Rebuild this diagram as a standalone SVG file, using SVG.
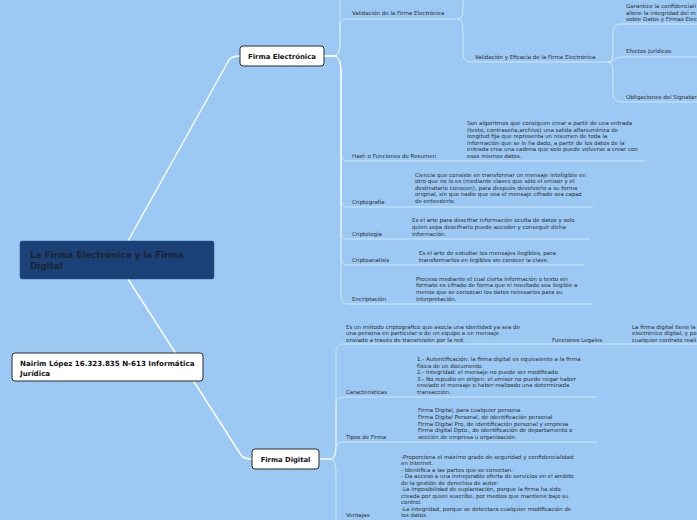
<svg xmlns="http://www.w3.org/2000/svg" width="697" height="520" viewBox="0 0 697 520">
<style>
.bg{fill:#9bc9f4}
.main{fill:none;stroke:#ffffff;stroke-width:1.4}
.br{fill:none;stroke:#ffffff;stroke-opacity:0.55;stroke-width:1}
.lbl{font-family:"DejaVu Sans",Verdana,sans-serif;font-size:5.5px;fill:#2b2b2b}
.node{fill:#ffffff;stroke:#2a2a2a;stroke-width:1}
.nt{font-family:"DejaVu Sans",Verdana,sans-serif;font-weight:bold;fill:#111111}
.ct{font-family:"DejaVu Sans",Verdana,sans-serif;font-weight:bold;fill:#1c2433;font-size:8.8px}
.central{fill:#1b4176;stroke:#24508c;stroke-width:0.5}
</style>
<rect class="bg" x="0" y="0" width="697" height="520"/>
<g id="connectors">
<path class="main" d="M128,241 L229,60 C231,57 234,56 240,56"/>
<path class="main" d="M128,279 L241,455 C243,458 246,459 252,459"/>
<path class="br" d="M324,56 H334 C339,56 340,50 340,40 V-10"/>
<path class="br" d="M324,56 H334 C339,56 340,50 340,42 V28 C340,22 342,19 348,19 H458"/>
<path class="br" d="M458,19 C462,19 463,15 463,8 V-10"/>
<path class="br" d="M458,19 C462,19 463,24 463,32 V53 C463,59 466,62 472,62 H608"/>
<path class="br" d="M608,62 C612,62 613,58 613,50 V32 C613,27 616,24 622,24 H697"/>
<path class="br" d="M608,62 C614,62 615,57 622,57 H697"/>
<path class="br" d="M608,62 C612,62 613,66 613,74 V94 C613,99 616,102 622,102 H697"/>
<path class="br" d="M324,56 H334 C339,56 341,62 341,74 V153 C341,158 343,161 348,161 H645"/>
<path class="br" d="M324,56 H334 C339,56 341,62 341,74 V199 C341,204 343,207 348,207 H593"/>
<path class="br" d="M324,56 H334 C339,56 341,62 341,74 V231 C341,236 343,239 348,239 H590"/>
<path class="br" d="M324,56 H334 C339,56 341,62 341,74 V257 C341,262 343,265 348,265 H584"/>
<path class="br" d="M324,56 H334 C339,56 341,62 341,74 V296 C341,301 343,304 348,304 H592"/>
<path class="br" d="M319,459 H330 C335,459 336,452 336,440 V352 C336,347 338,344 344,344 H697"/>
<path class="br" d="M319,459 H330 C335,459 336,452 336,440 V405 C336,400 338,397 344,397 H597"/>
<path class="br" d="M319,459 H330 C335,459 336,455 336,450 C336,445 338,442 344,442 H597"/>
<path class="br" d="M319,459 H330 C335,459 336,465 336,475 V530"/>
</g>
<g id="central">
<rect class="central" x="20" y="241" width="194" height="38" rx="2"/>
<text class="ct" x="30" y="258">La Firma Electrónica y la Firma</text>
<text class="ct" x="30" y="269">Digital</text>
</g>
<g id="autor">
<rect class="node" x="12" y="353" width="191" height="28" rx="3"/>
<text class="nt" x="20" y="366" font-size="7.1">Nairim López 16.323.835 N-613 Informática</text>
<text class="nt" x="20" y="375.5" font-size="7.1">Jurídica</text>
</g>
<g id="firma-electronica">
<rect class="node" x="240" y="46" width="84" height="20" rx="3"/>
<text class="nt" x="282" y="58.5" font-size="6.9" text-anchor="middle">Firma Electrónica</text>
</g>
<g id="firma-digital">
<rect class="node" x="252" y="449" width="67" height="20" rx="3"/>
<text class="nt" x="285.5" y="461.5" font-size="6.8" text-anchor="middle">Firma Digital</text>
</g>
<g id="validacion">
<text class="lbl" x="352" y="15">Validación de la Firma Electrónica</text>
</g>
<g id="validacion-eficacia">
<text class="lbl" x="475" y="59">Validación y Eficacia de la Firma Electrónica</text>
</g>
<g id="garantice">
<text class="lbl" x="626" y="8">Garantice la confidenciali</text>
<text class="lbl" x="626" y="14.5">altere la integridad del m</text>
<text class="lbl" x="626" y="21">sobre Datos y Firmas Elec</text>
</g>
<g id="efectos">
<text class="lbl" x="626" y="53">Efectos Jurídicos</text>
</g>
<g id="obligaciones">
<text class="lbl" x="626" y="98.5">Obligaciones del Signatari</text>
</g>
<g id="hash">
<text class="lbl" x="352" y="157.5">Hash o Funciones de Resumen</text>
</g>
<g id="hash-desc">
<text class="lbl" x="467" y="125">Son algoritmos que consiguen crear a partir de una entrada</text>
<text class="lbl" x="467" y="131.5">(texto, contraseña,archivo) una salida alfanumérica de</text>
<text class="lbl" x="467" y="138">longitud  fija que representa un resumen de toda la</text>
<text class="lbl" x="467" y="144.5">información que se le ha dado, a partir de los datos de la</text>
<text class="lbl" x="467" y="151">entrada crea una cadena que solo puede volverse a crear con</text>
<text class="lbl" x="467" y="157.5">esos mismos datos.</text>
</g>
<g id="criptografia">
<text class="lbl" x="352" y="203.5">Criptografía</text>
</g>
<g id="criptografia-desc">
<text class="lbl" x="415" y="176.5">Ciencia que consiste en transformar un mensaje inteligible en</text>
<text class="lbl" x="415" y="183">otro que no lo es (mediante claves que sólo el emisor y el</text>
<text class="lbl" x="415" y="189.5">destinatario conocen), para después devolverlo a su forma</text>
<text class="lbl" x="415" y="196">original, sin que nadie que vea el mensaje cifrado sea capaz</text>
<text class="lbl" x="415" y="202.5">de entenderlo.</text>
</g>
<g id="criptologia">
<text class="lbl" x="352" y="236">Criptología</text>
</g>
<g id="criptologia-desc">
<text class="lbl" x="412" y="222">Es el arte para descifrar información oculta de datos y solo</text>
<text class="lbl" x="412" y="229">quien sepa descifrarlo puede acceder y conseguir dicha</text>
<text class="lbl" x="412" y="236">información.</text>
</g>
<g id="criptoanalisis">
<text class="lbl" x="352" y="262">Criptoanalisis</text>
</g>
<g id="criptoanalisis-desc">
<text class="lbl" x="419" y="254.5">Es el arte de estudiar los mensajes ilegibles, para</text>
<text class="lbl" x="419" y="261.5">transformarlos en legibles sin conocer la clave.</text>
</g>
<g id="encriptacion">
<text class="lbl" x="352" y="301">Encriptación</text>
</g>
<g id="encriptacion-desc">
<text class="lbl" x="416" y="280.5">Proceso mediante el cual cierta información o texto sin</text>
<text class="lbl" x="416" y="287.3">formato es cifrado de forma que el resultado sea ilegible a</text>
<text class="lbl" x="416" y="294.1">menos que se conozcan los datos necesarios para su</text>
<text class="lbl" x="416" y="301">interpretación.</text>
</g>
<g id="metodo">
<text class="lbl" x="346" y="328.5">Es un método criptográfico que asocia una identidad ya sea de</text>
<text class="lbl" x="346" y="335">una persona en particular o de un equipo a un mensaje</text>
<text class="lbl" x="346" y="341.5">enviado a través de transmisión por la red.</text>
</g>
<g id="funciones-legales">
<text class="lbl" x="552" y="341.5">Funciones Legales</text>
</g>
<g id="funciones-desc">
<text class="lbl" x="632" y="328.5">La firma digital tiene la</text>
<text class="lbl" x="632" y="335">electrónico digital, y po</text>
<text class="lbl" x="632" y="341.5">cualquier contrato reali</text>
</g>
<g id="caracteristicas">
<text class="lbl" x="346" y="393.5">Características</text>
</g>
<g id="caracteristicas-desc">
<text class="lbl" x="417" y="361">1.- Autentificación: la firma digital es equivalente a la firma</text>
<text class="lbl" x="417" y="367.5">física de un documento.</text>
<text class="lbl" x="417" y="374">2.- Integridad: el mensaje no puede ser modificado.</text>
<text class="lbl" x="417" y="380.5">3.- No repudio en origen: el emisor no puede negar haber</text>
<text class="lbl" x="417" y="387">enviado el mensaje o haber realizado una determinada</text>
<text class="lbl" x="417" y="393.5">transacción.</text>
</g>
<g id="tipos">
<text class="lbl" x="346" y="439">Tipos de Firma</text>
</g>
<g id="tipos-desc">
<text class="lbl" x="418" y="412">Firma Digital, para cualquier persona.</text>
<text class="lbl" x="418" y="418.8">Firma Digital Personal, de identificación personal</text>
<text class="lbl" x="418" y="425.6">Firma Digital Pro, de identificación personal y empresa</text>
<text class="lbl" x="418" y="432.4">Firma digital Dpto., de identificación de departamento o</text>
<text class="lbl" x="418" y="439.2">sección de empresa u organización.</text>
</g>
<g id="ventajas">
<text class="lbl" x="346" y="517">Ventajas</text>
</g>
<g id="ventajas-desc">
<text class="lbl" x="401" y="458.5">-Proporciona el máximo grado de seguridad y confidencialidad</text>
<text class="lbl" x="401" y="465">en Internet.</text>
<text class="lbl" x="401" y="471.5">- Identifica a las partes que se conectan.</text>
<text class="lbl" x="401" y="478">- Da acceso a una inmejorable oferta de servicios en el ámbito</text>
<text class="lbl" x="401" y="484.5">de la gestión de derechos de autor.</text>
<text class="lbl" x="401" y="491">-La imposibilidad de suplantación, porque la firma ha sido</text>
<text class="lbl" x="401" y="497.5">creada por quien suscribe, por medios que mantiene bajo su</text>
<text class="lbl" x="401" y="504">control.</text>
<text class="lbl" x="401" y="510.5">-La integridad, porque se detectará cualquier modificación de</text>
<text class="lbl" x="401" y="517">los datos.</text>
</g>
</svg>
